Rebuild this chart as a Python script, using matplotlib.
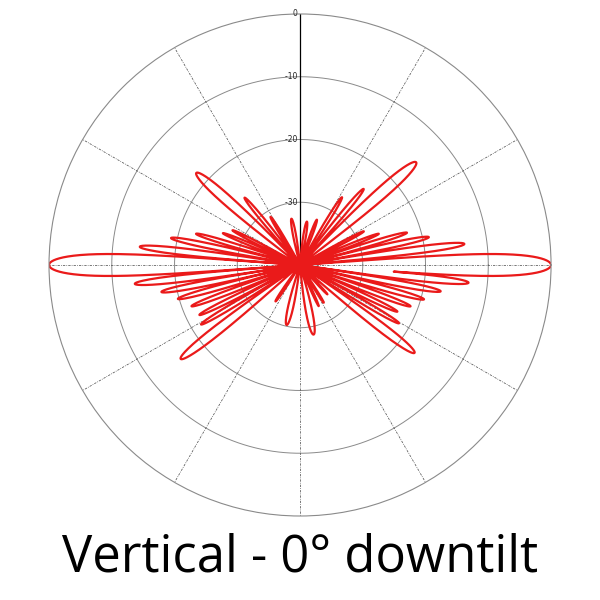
import numpy as np
import matplotlib
matplotlib.use("Agg")
import matplotlib.pyplot as plt

# === DATA ===
# lobe direction (deg, 0 = horizon right, counter-clockwise), peak level (dB), null-to-null width (deg)
LOBE_ANGLES = [0, 7.3, 12.2, 16.8, 21.6, 27.8, 41.5, 50.1, 58.2, 69.6, 81, 100.5,
               121.5, 129.5, 138.4, 152.8, 157.6, 163.3, 168.2, 173.5, 180,
               -173.5, -169, -164.5, -159.2, -153.6, -149, -141.8, -124, -102.6,
               -79, -65.6, -57.8, -47, -37.5, -30.5, -25.6, -20.5, -15.5, -10.6, -6.0]
LOBE_PEAKS = [0, -13.6, -19.0, -22.2, -26.5, -28.5, -15.3, -24.2, -27.3, -32.3, -33, -32.5,
              -31, -26.1, -17.9, -27.9, -26.7, -22.7, -19.0, -14.3, 0,
              -13.5, -17.5, -19.8, -21.5, -22.1, -21.6, -15.8, -33, -30.2,
              -28.7, -32.8, -32.9, -33.6, -17.0, -21.7, -22.8, -21.2, -19.5, -17.2, -13.0]
LOBE_WIDTHS = [8.4, 4.6, 4.6, 4.6, 4.6, 5.0, 8.5, 6.0, 6.0, 9, 12, 12,
               7, 6, 8.5, 5, 4.6, 4.6, 4.6, 4.6, 8.4,
               4.6, 4.6, 4.6, 4.6, 4.6, 4.6, 7, 8, 14,
               14, 6, 6, 6, 7, 4.6, 4.6, 4.6, 4.6, 4.6, 4.6]

RINGS = [-30, -20, -10, 0]
FLOOR = -40
TITLE = "Vertical - 0° downtilt"

# === BUILD PATTERN ===
theta = np.arange(-180, 180.001, 0.05)
pattern = np.full_like(theta, -200.0)
for ang, pk, w in zip(LOBE_ANGLES, LOBE_PEAKS, LOBE_WIDTHS):
    d = (theta - ang + 180) % 360 - 180
    inside = np.abs(d) < w / 2
    c = np.cos(np.pi * d[inside] / w)
    lobe = pk + 20 * np.log10(np.maximum(c, 1e-6))
    pattern[inside] = np.maximum(pattern[inside], lobe)
pattern = np.clip(pattern, FLOOR, 0)

# === PLOT ===
fig = plt.figure(figsize=(6, 6), dpi=100)
ax = fig.add_axes([0.0817, 0.14, 0.8367, 0.8367], projection="polar")
ax.set_ylim(FLOOR, 0)
ax.grid(False)
ax.set_xticks([])
ax.set_yticks([])
ax.spines["polar"].set_color("#8a8a8a")
ax.spines["polar"].set_linewidth(0.8)

full = np.linspace(0, 2 * np.pi, 400)
for r in RINGS[:-1]:
    ax.plot(full, np.full_like(full, r), color="#8a8a8a", lw=0.7, zorder=1)

for sp in range(0, 360, 30):
    t = np.deg2rad(sp)
    if sp == 90:
        ax.plot([t, t], [FLOOR, 0], color="black", lw=0.9, zorder=1)
    else:
        ax.plot([t, t], [FLOOR, 0], color="#555555", lw=0.55,
                linestyle=(0, (3, 1.5, 1, 1.5)), zorder=1)

for r in RINGS:
    ax.text(np.pi / 2, r, str(r) + " ", ha="right", va="center",
            fontsize=5.5, color="#222222", zorder=3)

ax.plot(np.deg2rad(theta), pattern, color="#ea1a1a", lw=1.6, zorder=2)

fig.text(0.5, 0.07, TITLE, ha="center", va="center", fontsize=36.5,
         family=["Open Sans", "DejaVu Sans"])

fig.savefig("out.png", dpi=100)
